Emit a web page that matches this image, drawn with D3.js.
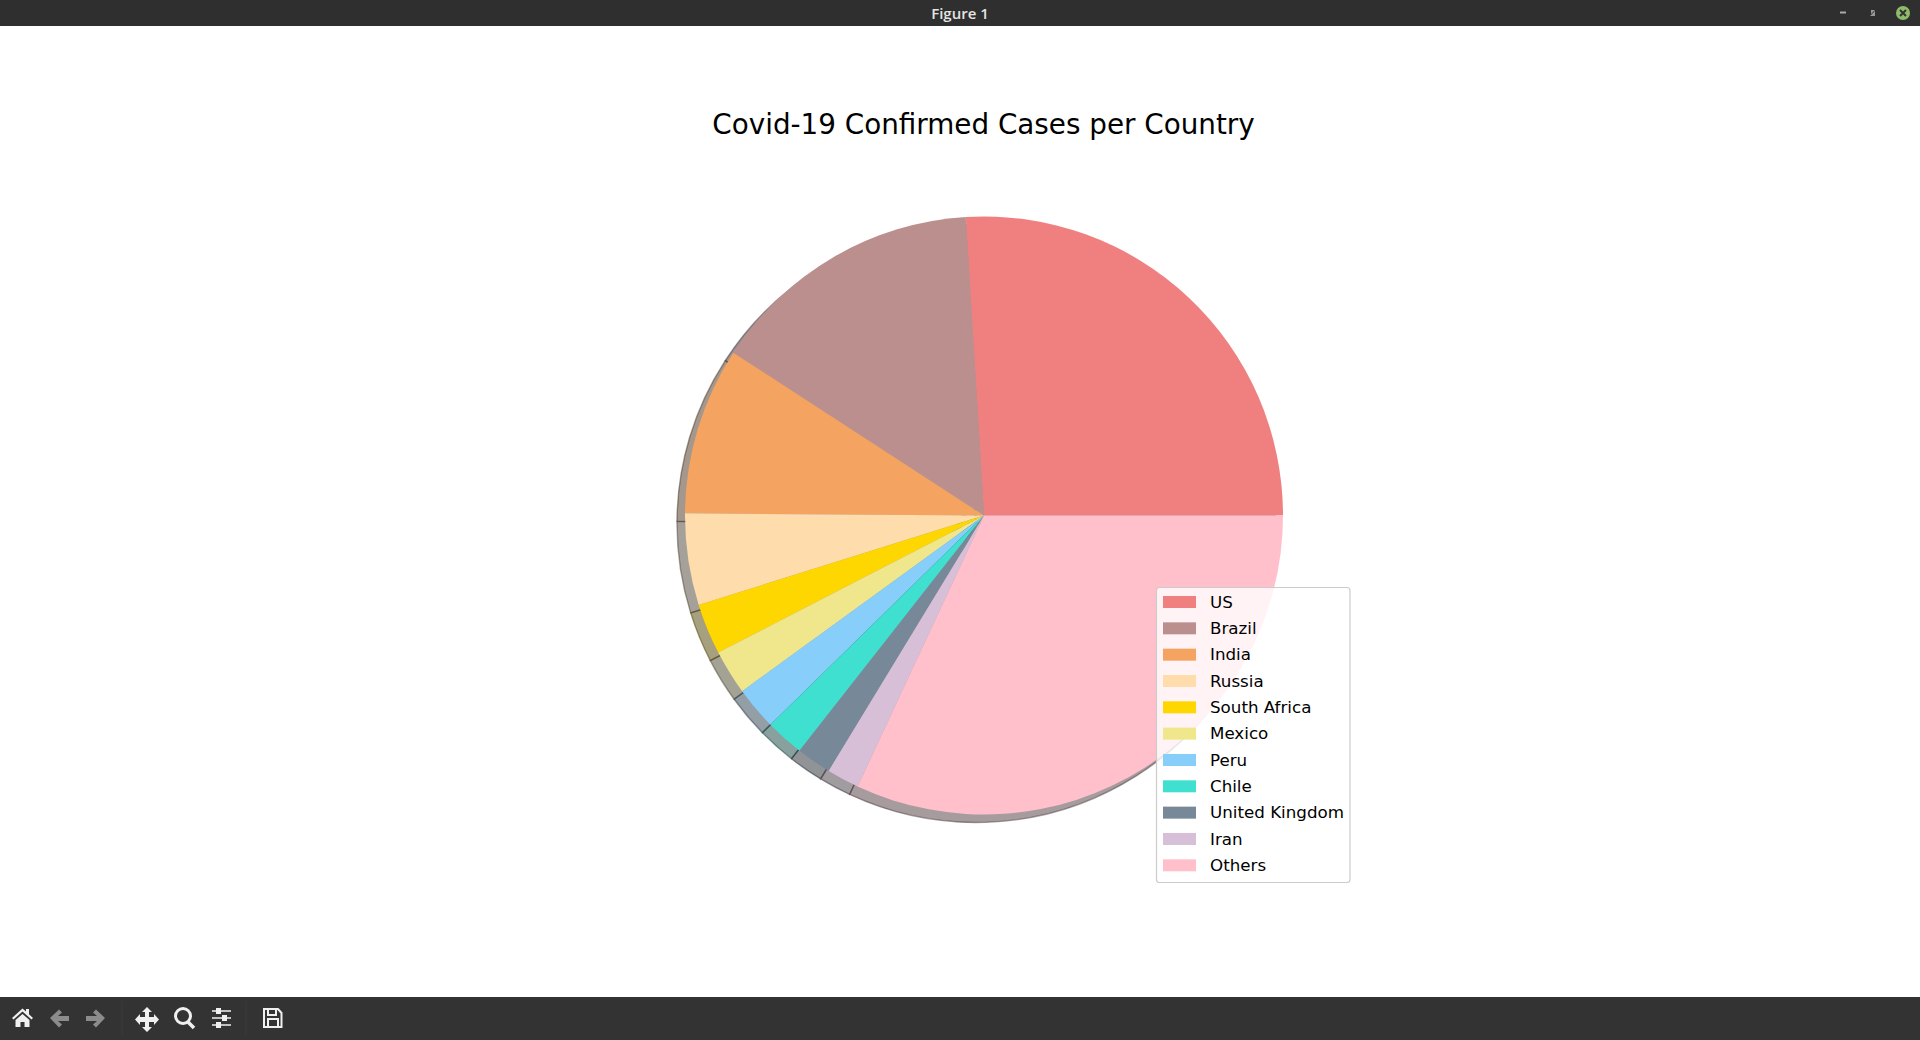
<!DOCTYPE html>
<html>
<head>
<meta charset="utf-8">
<style>
  html, body { margin: 0; padding: 0; background: #fff; overflow: hidden; }
  text { font-family: "DejaVu Sans", sans-serif; }
</style>
<script src="https://cdn.jsdelivr.net/npm/d3@7"></script>
</head>
<body>
<script>
var countries = ["US", "Brazil", "India", "Russia", "South Africa", "Mexico", "Peru", "Chile", "United Kingdom", "Iran", "Others"];
// thousands of cases
var cases = [5714, 3269, 1992, 1088, 605, 532, 513, 458, 416, 385, 7028];
var colors = ["lightcoral", "rosybrown", "sandybrown", "#fedcab", "gold", "khaki", "lightskyblue", "turquoise", "lightslategrey", "thistle", "pink"];

var width = 1920,
  height = 1040,
  cx = 984,
  cy = 515.5,
  radius = 299,
  shadowOffset = 8;

var svg = d3.select("body").append("svg").attr("width", width).attr("height", height).style("display", "block");

svg.append("rect").attr("width", width).attr("height", height).attr("fill", "#fff");

// window title bar
svg.append("rect").attr("width", width).attr("height", 26).attr("fill", "#2f2f2f");
svg.append("text")
  .attr("x", 960).attr("y", 18.5)
  .attr("text-anchor", "middle")
  .style("font-family", "'Open Sans'")
  .style("font-size", "15px")
  .style("font-weight", 600)
  .attr("fill", "#e4e4e4")
  .text("Figure 1");
svg.append("rect").attr("x", 1840).attr("y", 11.5).attr("width", 6).attr("height", 2).attr("fill", "#aaa");
svg.append("path").attr("d", "M1870 16l5-5v5zM1871 10h4l-4 4z").attr("fill", "#999");
svg.append("circle").attr("cx", 1903).attr("cy", 13).attr("r", 7).attr("fill", "#8fbc6a");
svg.append("path").attr("d", "M1900 10l6 6M1906 10l-6 6").attr("stroke", "#333").attr("stroke-width", 2);

// title
svg.append("text")
  .attr("x", 983.5).attr("y", 134)
  .attr("text-anchor", "middle")
  .style("font-size", "27.8px")
  .attr("fill", "#000")
  .text("Covid-19 Confirmed Cases per Country");

// pie, counterclockwise from 3 o'clock like matplotlib
var pie = d3.pie().sort(null).startAngle(Math.PI / 2).endAngle(Math.PI / 2 - 2 * Math.PI);
var arc = d3.arc().innerRadius(0).outerRadius(radius);
var slices = pie(cases);

function shade(d, i) {
  var c = d3.rgb(colors[i]);
  return d3.rgb(c.r * 0.3, c.g * 0.3, c.b * 0.3);
}

// each slice has its own shadow, the stroked edges make the dark ticks
svg.append("g")
  .attr("transform", "translate(" + (cx - shadowOffset) + "," + (cy + shadowOffset) + ")")
  .selectAll("path")
  .data(slices)
  .enter()
  .append("path")
  .attr("d", arc)
  .attr("fill", shade)
  .attr("fill-opacity", 0.5)
  .attr("stroke", shade)
  .attr("stroke-opacity", 0.5)
  .attr("stroke-width", 1.4);

svg.append("g")
  .attr("transform", "translate(" + cx + "," + cy + ")")
  .selectAll("path")
  .data(slices)
  .enter()
  .append("path")
  .attr("d", arc)
  .attr("fill", function (d, i) {
    return colors[i];
  });

// legend
var legendY = d3.scalePoint().domain(countries).range([602, 865.3]);

svg.append("rect")
  .attr("x", 1156.5).attr("y", 587.5)
  .attr("width", 193.5).attr("height", 295)
  .attr("rx", 3)
  .attr("fill", "#fff").attr("fill-opacity", 0.8)
  .attr("stroke", "#ccc").attr("stroke-width", 1.2);

var entry = svg.append("g").selectAll("g").data(countries).enter().append("g");

entry.append("rect")
  .attr("x", 1163)
  .attr("y", function (d) { return legendY(d) - 6; })
  .attr("width", 33)
  .attr("height", 12)
  .attr("fill", function (d, i) { return colors[i]; });

entry.append("text")
  .attr("x", 1210)
  .attr("y", function (d) { return legendY(d) + 5.7; })
  .style("font-size", "16.7px")
  .attr("fill", "#000")
  .text(function (d) { return d; });

// toolbar
svg.append("rect").attr("y", 997).attr("width", width).attr("height", 43).attr("fill", "#333");
var tb = svg.append("g").attr("transform", "translate(0,-1)");
var iconOn = "#f0f0f0", iconOff = "#8c8c8c";
tb.append("path").attr("fill", iconOn).attr("d", "M12 1019l10.5-9.5 3.5 3v-2.5h3v5.2l4 3.8-1.5 1.5-9-8-9 8zM15.5 1021l7-6 7 6v7h-5v-5h-4v5h-5z");
tb.append("path").attr("fill", iconOff).attr("d", "M50 1019l9-8.500 3 3-4 3.500h11v5h-11l4 3.500-3 3z");
tb.append("path").attr("fill", iconOff).attr("d", "M105 1019l-9-8.500-3 3 4 3.500h-11v5h11l-4 3.500 3 3z");
tb.append("path").attr("fill", iconOn).attr("d", "M147 1008l5 5h-3v5h5v-3l5 5.500-5 5.500v-3h-5v5h3l-5 5-5-5h3v-5h-5v3l-5-5.500 5-5.500v3h5v-5h-3z");
tb.append("circle").attr("cx", 183).attr("cy", 1017).attr("r", 7.500).attr("fill", "none").attr("stroke", iconOn).attr("stroke-width", 3);
tb.append("line").attr("x1", 188).attr("y1", 1023).attr("x2", 194).attr("y2", 1029).attr("stroke", iconOn).attr("stroke-width", 3.500);
[1012, 1019, 1026].forEach(function (y, i) {
  tb.append("line").attr("x1", 212).attr("x2", 231).attr("y1", y).attr("y2", y).attr("stroke", iconOn).attr("stroke-width", 1.500);
  tb.append("rect").attr("x", [216, 222, 216][i]).attr("y", y - 3).attr("width", 5).attr("height", 6).attr("fill", iconOn);
});
tb.append("path").attr("fill", "none").attr("stroke", iconOn).attr("stroke-width", 2)
  .attr("d", "M264 1010h14l3.500 4v14h-17.500zM268 1010v6h8v-6M268 1028v-8h10v8");
[122, 246].forEach(function (x) {
  tb.append("line").attr("x1", x).attr("x2", x).attr("y1", 1002).attr("y2", 1036).attr("stroke", "#3d3d3d");
});
</script>
</body>
</html>
